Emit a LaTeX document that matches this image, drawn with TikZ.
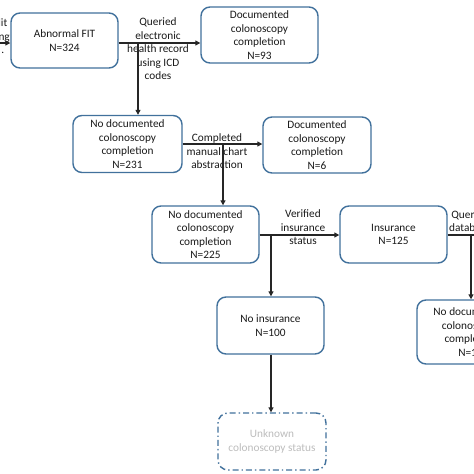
\documentclass[tikz,border=0pt]{standalone}
\usepackage{fontspec}
\setmainfont{Carlito}
\usetikzlibrary{arrows.meta}
\definecolor{boxc}{HTML}{41719C}
\definecolor{txtc}{HTML}{1A1A1A}
\definecolor{greyt}{HTML}{BDBDBD}
\tikzset{
  fbox/.style={draw=boxc, line width=1.4pt, rounded corners=9pt, align=center,
    inner sep=0pt, text=txtc, font=\fontsize{11.3}{13.5}\selectfont},
  lbl/.style={align=center, inner sep=0pt, text=txtc, font=\fontsize{11.3}{13.5}\selectfont},
  arr/.style={line width=1.2pt, draw=black!85, -{Triangle[length=5pt,width=5pt]}},
  ln/.style={line width=1.2pt, draw=black!85},
}
\begin{document}
\begin{tikzpicture}[x=1pt,y=-1pt]
\useasboundingbox (0,0) rectangle (474,474);
\clip (0,0) rectangle (474,474);
\fill[white] (0,0) rectangle (474,474);

% boxes
\node[fbox, minimum width=107, minimum height=55] (fit) at (64.5,40.5) {Abnormal FIT\\N=324};
\node[fbox, minimum width=117, minimum height=56] (doc93) at (259.5,35) {Documented\\colonoscopy\\completion\\N=93};
\node[fbox, minimum width=109, minimum height=57] (nd231) at (127.5,144) {No documented\\colonoscopy\\completion\\N=231};
\node[fbox, minimum width=108, minimum height=56] (doc6) at (317,145) {Documented\\colonoscopy\\completion\\N=6};
\node[fbox, minimum width=107, minimum height=57] (nd225) at (205.5,234.5) {No documented\\colonoscopy\\completion\\N=225};
\node[fbox, minimum width=107, minimum height=57] (ins) at (393.5,234.5) {Insurance\\N=125};
\node[fbox, minimum width=107, minimum height=64] (ndR) at (470.5,332) {No documented\\colonoscopy\\completion\\N=1\phantom{9}};
\node[fbox, minimum width=107, minimum height=57] (noins) at (270.5,325.5) {No insurance\\N=100};
\node[fbox, minimum width=108, minimum height=57, rounded corners=10pt,
  dash pattern=on 6pt off 3pt on 1.4pt off 3pt, text=greyt] (unk) at (272,441.5) {Unknown\\colonoscopy status};

% labels
\node[lbl, anchor=east] (lleft) at (10,36.5) {lit\\ing\\.};
\node[lbl] (l1) at (158,49) {Queried\\electronic\\health record\\using ICD\\codes};
\node[lbl] (l2) at (217,151.5) {Completed\\manual chart\\abstraction};
\node[lbl] (l3) at (303,227.5) {Verified\\insurance\\status};
\node[lbl] (l4) at (470,221) {Queried\\database};

% connectors
\coordinate (lin) at (-40,43);
\coordinate (j1) at (138,43);
\coordinate (j2) at (223,144);
\coordinate (j3) at (271,235);
\coordinate (j4) at (471,235);
\coordinate (rout) at (520,235);

\draw[arr] (lin) -- (lin -| fit.west);
\draw[arr] (fit.east |- j1) -- (doc93.west |- j1);
\draw[arr] (j1) -- (j1 |- nd231.north);
\draw[arr] (nd231.east |- j2) -- (doc6.west |- j2);
\draw[arr] (j2) -- (j2 |- nd225.north);
\draw[arr] (nd225.east |- j3) -- (ins.west |- j3);
\draw[arr] (j3) -- (j3 |- noins.north);
\draw[ln] (ins.east |- j4) -- (rout);
\draw[arr] (j4) -- (j4 |- ndR.north);
\draw[arr] (noins.south -| j3) -- (unk.north -| j3);
\end{tikzpicture}
\end{document}
